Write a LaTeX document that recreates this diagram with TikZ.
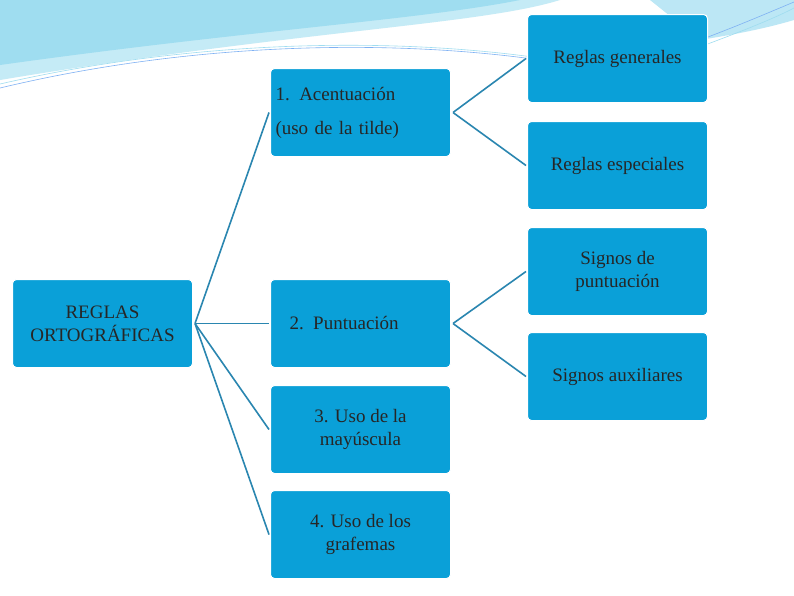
\documentclass[tikz,border=0pt]{standalone}
\usepackage{fontspec}
\setmainfont{Liberation Serif}
\begin{document}
\begin{tikzpicture}[x=1pt,y=-1pt,
  box/.style={draw=white,line width=1pt,fill=boxblue,rounded corners=4pt,minimum width=180pt,minimum height=88pt,text=black!85,font=\fontsize{19}{23}\selectfont,align=center,anchor=north west,inner sep=4pt},
  conn/.style={draw=lineblue,line width=1.6pt}]
\definecolor{boxblue}{HTML}{0AA0D8}
\definecolor{lineblue}{HTML}{2A86B0}
\definecolor{wave}{HTML}{9FDDF0}
\useasboundingbox (0,0) rectangle (794,595);
\fill[white] (0,0) rectangle (794,595);
% top decoration
\fill[wave!60] (0,0) -- (560,0) .. controls (480,25) and (300,30) .. (0,80) -- cycle;
\fill[wave] (0,0) -- (520,0) .. controls (420,20) and (250,30) .. (0,65) -- cycle;
\draw[wave!80!blue,line width=0.6pt] (0,88) .. controls (200,40) and (400,40) .. (540,60);
\draw[wave,line width=0.6pt] (0,84) .. controls (200,38) and (400,38) .. (540,58);
\fill[wave!70] (794,0) -- (794,20) .. controls (760,30) and (730,35) .. (700,40) -- (650,0) -- cycle;
\draw[wave!80!blue,line width=0.6pt] (700,40) .. controls (740,25) and (770,12) .. (794,2);
\draw[wave,line width=0.6pt] (705,45) .. controls (745,30) and (775,18) .. (794,8);
% boxes
\node[box] (root) at (12,279) {REGLAS\\ORTOGRÁFICAS};
\node[box,align=left,text width=170pt,font=\fontsize{19}{34}\selectfont] (a1) at (270,68) {1. Acentuación\\(uso de la tilde)};
\node[box,align=left,text width=170pt,inner sep=2pt] (a2) at (270,279) {\hspace*{14pt}2. Puntuación};
\node[box] (a3) at (270,385) {3. Uso de la\\mayúscula};
\node[box] (a4) at (270,490) {4. Uso de los\\grafemas};
\node[box] (g) at (527,14) {Reglas generales};
\node[box] (e) at (527,121) {Reglas especiales};
\node[box] (sp) at (527,227) {Signos de\\puntuación};
\node[box] (sa) at (527,332) {Signos auxiliares};
% connectors
\foreach \c in {a1,a2,a3,a4} \draw[conn] ([xshift=2pt]root.east) -- ([xshift=-1pt]\c.west);
\foreach \c in {g,e} \draw[conn] ([xshift=2pt]a1.east) -- ([xshift=-1pt]\c.west);
\foreach \c in {sp,sa} \draw[conn] ([xshift=2pt]a2.east) -- ([xshift=-1pt]\c.west);
\end{tikzpicture}
\end{document}
